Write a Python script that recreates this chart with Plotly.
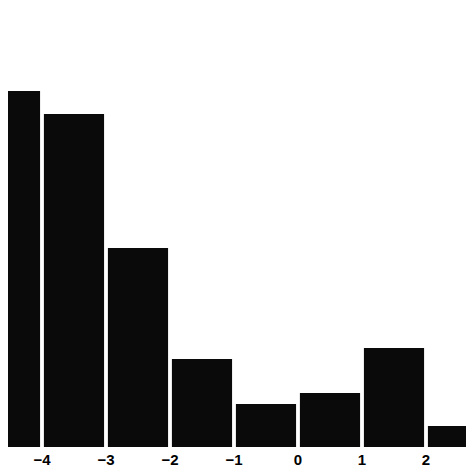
import plotly.graph_objects as go

centers = [-4.5, -3.5, -2.5, -1.5, -0.5, 0.5, 1.5, 2.5]
counts = [356, 333, 199, 88, 43, 54, 99, 21]
tick_vals = [-4, -3, -2, -1, 0, 1, 2]

fig = go.Figure(go.Bar(x=centers, y=counts, marker_color="#0a0a0a",
                       marker_line_width=0))
fig.update_layout(
    width=474, height=474, bargap=0.06,
    margin={"l": 0, "r": 0, "t": 0, "b": 35},
    plot_bgcolor="white", paper_bgcolor="white", showlegend=False,
    font=dict(family="Liberation Sans, Arial", size=15, color="black"),
)
fig.update_xaxes(range=[-4.531, 2.875], tickvals=tick_vals,
                 tickfont=dict(size=15, family="Liberation Sans, Arial", weight="bold"),
                 showgrid=False, zeroline=False, showline=False,
                 ticks="", ticklabelstandoff=2, automargin=False)
fig.update_yaxes(range=[0, 439], visible=False)
fig.write_html("out.html")
